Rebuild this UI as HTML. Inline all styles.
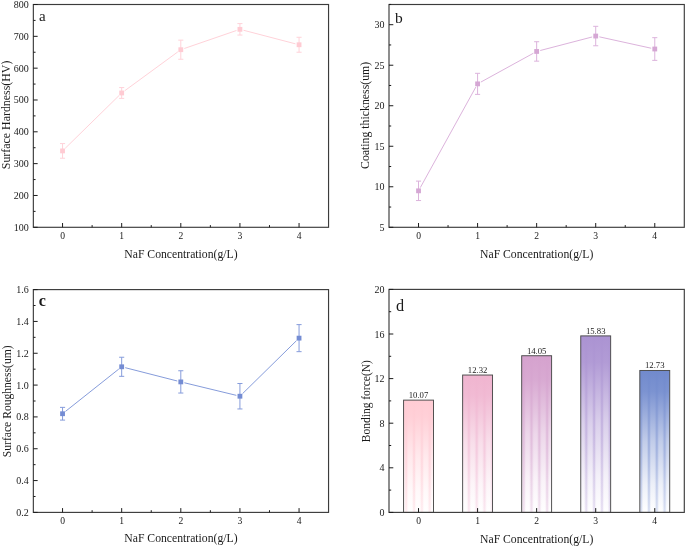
<!DOCTYPE html>
<html><head><meta charset="utf-8"><title>Figure</title>
<style>html,body{margin:0;padding:0;background:#fff;overflow:hidden}svg{display:block}text{font-family:"Liberation Serif", serif}</style>
</head><body>
<svg width="685" height="546" viewBox="0 0 685 546">
<rect width="685" height="546" fill="#fff"/>
<defs>
<linearGradient id="g0" x1="0" y1="0" x2="0" y2="1"><stop offset="0" stop-color="#FFCCD4"/><stop offset="0.15" stop-color="#FFCCD4" stop-opacity="0.92"/><stop offset="0.5" stop-color="#FFCCD4" stop-opacity="0.43"/><stop offset="0.8" stop-color="#FFCCD4" stop-opacity="0.13"/><stop offset="1" stop-color="#FFCCD4" stop-opacity="0"/></linearGradient>
<linearGradient id="s0" x1="0" y1="0" x2="1" y2="0"><stop offset="0.26" stop-color="#FFD9E0" stop-opacity="0"/><stop offset="0.5" stop-color="#FFD9E0"/><stop offset="0.74" stop-color="#FFD9E0" stop-opacity="0"/></linearGradient>
<pattern id="p0" patternUnits="userSpaceOnUse" x="2.955" y="0" width="7.83" height="600"><rect x="0" y="0" width="7.83" height="600" fill="url(#s0)"/></pattern>
<linearGradient id="g1" x1="0" y1="0" x2="0" y2="1"><stop offset="0" stop-color="#F0B5D0"/><stop offset="0.15" stop-color="#F0B5D0" stop-opacity="0.92"/><stop offset="0.5" stop-color="#F0B5D0" stop-opacity="0.43"/><stop offset="0.8" stop-color="#F0B5D0" stop-opacity="0.13"/><stop offset="1" stop-color="#F0B5D0" stop-opacity="0"/></linearGradient>
<linearGradient id="s1" x1="0" y1="0" x2="1" y2="0"><stop offset="0.26" stop-color="#F5CEE1" stop-opacity="0"/><stop offset="0.5" stop-color="#F5CEE1"/><stop offset="0.74" stop-color="#F5CEE1" stop-opacity="0"/></linearGradient>
<pattern id="p1" patternUnits="userSpaceOnUse" x="2.955" y="0" width="7.83" height="600"><rect x="0" y="0" width="7.83" height="600" fill="url(#s1)"/></pattern>
<linearGradient id="g2" x1="0" y1="0" x2="0" y2="1"><stop offset="0" stop-color="#D5A2CE"/><stop offset="0.15" stop-color="#D5A2CE" stop-opacity="0.92"/><stop offset="0.5" stop-color="#D5A2CE" stop-opacity="0.43"/><stop offset="0.8" stop-color="#D5A2CE" stop-opacity="0.13"/><stop offset="1" stop-color="#D5A2CE" stop-opacity="0"/></linearGradient>
<linearGradient id="s2" x1="0" y1="0" x2="1" y2="0"><stop offset="0.26" stop-color="#E3C2DF" stop-opacity="0"/><stop offset="0.5" stop-color="#E3C2DF"/><stop offset="0.74" stop-color="#E3C2DF" stop-opacity="0"/></linearGradient>
<pattern id="p2" patternUnits="userSpaceOnUse" x="2.955" y="0" width="7.83" height="600"><rect x="0" y="0" width="7.83" height="600" fill="url(#s2)"/></pattern>
<linearGradient id="g3" x1="0" y1="0" x2="0" y2="1"><stop offset="0" stop-color="#AB93D2"/><stop offset="0.15" stop-color="#AB93D2" stop-opacity="0.92"/><stop offset="0.5" stop-color="#AB93D2" stop-opacity="0.43"/><stop offset="0.8" stop-color="#AB93D2" stop-opacity="0.13"/><stop offset="1" stop-color="#AB93D2" stop-opacity="0"/></linearGradient>
<linearGradient id="s3" x1="0" y1="0" x2="1" y2="0"><stop offset="0.26" stop-color="#CDBFE5" stop-opacity="0"/><stop offset="0.5" stop-color="#CDBFE5"/><stop offset="0.74" stop-color="#CDBFE5" stop-opacity="0"/></linearGradient>
<pattern id="p3" patternUnits="userSpaceOnUse" x="2.955" y="0" width="7.83" height="600"><rect x="0" y="0" width="7.83" height="600" fill="url(#s3)"/></pattern>
<linearGradient id="g4" x1="0" y1="0" x2="0" y2="1"><stop offset="0" stop-color="#718ACD"/><stop offset="0.15" stop-color="#718ACD" stop-opacity="0.92"/><stop offset="0.5" stop-color="#718ACD" stop-opacity="0.43"/><stop offset="0.8" stop-color="#718ACD" stop-opacity="0.13"/><stop offset="1" stop-color="#718ACD" stop-opacity="0"/></linearGradient>
<linearGradient id="s4" x1="0" y1="0" x2="1" y2="0"><stop offset="0.26" stop-color="#AEBCE4" stop-opacity="0"/><stop offset="0.5" stop-color="#AEBCE4"/><stop offset="0.74" stop-color="#AEBCE4" stop-opacity="0"/></linearGradient>
<pattern id="p4" patternUnits="userSpaceOnUse" x="2.955" y="0" width="7.83" height="600"><rect x="0" y="0" width="7.83" height="600" fill="url(#s4)"/></pattern>
<linearGradient id="wf" x1="0" y1="0" x2="0" y2="1"><stop offset="0.55" stop-color="#fff" stop-opacity="0"/><stop offset="1" stop-color="#fff" stop-opacity="0.4"/></linearGradient>
</defs>
<path d="M65.2 148.32L119.03 95.57M124.66 90.8L177.82 51.88M184.3 48.49L236.43 30.53M243.51 30.26L295.47 43.83" fill="none" stroke="#FFD2D9" stroke-width="1"/>
<path d="M62.55 143.59V158.23M60 143.59H65.1M60 158.23H65.1" fill="none" stroke="#FFD2D9" stroke-width="1"/>
<rect x="60.15" y="148.51" width="4.8" height="4.8" fill="#FFCBD3"/>
<path d="M121.68 87.57V98.39M119.13 87.57H124.23M119.13 98.39H124.23" fill="none" stroke="#FFD2D9" stroke-width="1"/>
<rect x="119.28" y="90.58" width="4.8" height="4.8" fill="#FFCBD3"/>
<path d="M180.8 40.15V59.25M178.25 40.15H183.35M178.25 59.25H183.35" fill="none" stroke="#FFD2D9" stroke-width="1"/>
<rect x="178.4" y="47.3" width="4.8" height="4.8" fill="#FFCBD3"/>
<path d="M239.93 23.6V35.06M237.38 23.6H242.48M237.38 35.06H242.48" fill="none" stroke="#FFD2D9" stroke-width="1"/>
<rect x="237.53" y="26.93" width="4.8" height="4.8" fill="#FFCBD3"/>
<path d="M299.05 37.28V52.24M296.5 37.28H301.6M296.5 52.24H301.6" fill="none" stroke="#FFD2D9" stroke-width="1"/>
<rect x="296.65" y="42.36" width="4.8" height="4.8" fill="#FFCBD3"/>
<rect x="33.35" y="4.5" width="295.2" height="222.8" fill="none" stroke="#3c3c3c" stroke-width="1.15"/>
<line x1="62.55" y1="227.3" x2="62.55" y2="223.0" stroke="#1c1c1c" stroke-width="1"/>
<text x="62.55" y="239.2" font-size="9.6" text-anchor="middle" fill="#1a1a1a">0</text>
<line x1="121.68" y1="227.3" x2="121.68" y2="223.0" stroke="#1c1c1c" stroke-width="1"/>
<text x="121.68" y="239.2" font-size="9.6" text-anchor="middle" fill="#1a1a1a">1</text>
<line x1="180.8" y1="227.3" x2="180.8" y2="223.0" stroke="#1c1c1c" stroke-width="1"/>
<text x="180.8" y="239.2" font-size="9.6" text-anchor="middle" fill="#1a1a1a">2</text>
<line x1="239.93" y1="227.3" x2="239.93" y2="223.0" stroke="#1c1c1c" stroke-width="1"/>
<text x="239.93" y="239.2" font-size="9.6" text-anchor="middle" fill="#1a1a1a">3</text>
<line x1="299.05" y1="227.3" x2="299.05" y2="223.0" stroke="#1c1c1c" stroke-width="1"/>
<text x="299.05" y="239.2" font-size="9.6" text-anchor="middle" fill="#1a1a1a">4</text>
<line x1="92.12" y1="227.3" x2="92.12" y2="225.10000000000002" stroke="#1c1c1c" stroke-width="1"/>
<line x1="151.24" y1="227.3" x2="151.24" y2="225.10000000000002" stroke="#1c1c1c" stroke-width="1"/>
<line x1="210.37" y1="227.3" x2="210.37" y2="225.10000000000002" stroke="#1c1c1c" stroke-width="1"/>
<line x1="269.49" y1="227.3" x2="269.49" y2="225.10000000000002" stroke="#1c1c1c" stroke-width="1"/>
<line x1="33.35" y1="227.3" x2="37.65" y2="227.3" stroke="#1c1c1c" stroke-width="1"/>
<text x="28.75" y="230.8" font-size="10" text-anchor="end" fill="#1a1a1a">100</text>
<line x1="33.35" y1="195.47" x2="37.65" y2="195.47" stroke="#1c1c1c" stroke-width="1"/>
<text x="28.75" y="198.97" font-size="10" text-anchor="end" fill="#1a1a1a">200</text>
<line x1="33.35" y1="163.64" x2="37.65" y2="163.64" stroke="#1c1c1c" stroke-width="1"/>
<text x="28.75" y="167.14" font-size="10" text-anchor="end" fill="#1a1a1a">300</text>
<line x1="33.35" y1="131.81" x2="37.65" y2="131.81" stroke="#1c1c1c" stroke-width="1"/>
<text x="28.75" y="135.31" font-size="10" text-anchor="end" fill="#1a1a1a">400</text>
<line x1="33.35" y1="99.99" x2="37.65" y2="99.99" stroke="#1c1c1c" stroke-width="1"/>
<text x="28.75" y="103.49" font-size="10" text-anchor="end" fill="#1a1a1a">500</text>
<line x1="33.35" y1="68.16" x2="37.65" y2="68.16" stroke="#1c1c1c" stroke-width="1"/>
<text x="28.75" y="71.66" font-size="10" text-anchor="end" fill="#1a1a1a">600</text>
<line x1="33.35" y1="36.33" x2="37.65" y2="36.33" stroke="#1c1c1c" stroke-width="1"/>
<text x="28.75" y="39.83" font-size="10" text-anchor="end" fill="#1a1a1a">700</text>
<line x1="33.35" y1="4.5" x2="37.65" y2="4.5" stroke="#1c1c1c" stroke-width="1"/>
<text x="28.75" y="8" font-size="10" text-anchor="end" fill="#1a1a1a">800</text>
<line x1="33.35" y1="211.39" x2="35.550000000000004" y2="211.39" stroke="#1c1c1c" stroke-width="1"/>
<line x1="33.35" y1="179.56" x2="35.550000000000004" y2="179.56" stroke="#1c1c1c" stroke-width="1"/>
<line x1="33.35" y1="147.73" x2="35.550000000000004" y2="147.73" stroke="#1c1c1c" stroke-width="1"/>
<line x1="33.35" y1="115.9" x2="35.550000000000004" y2="115.9" stroke="#1c1c1c" stroke-width="1"/>
<line x1="33.35" y1="84.07" x2="35.550000000000004" y2="84.07" stroke="#1c1c1c" stroke-width="1"/>
<line x1="33.35" y1="52.24" x2="35.550000000000004" y2="52.24" stroke="#1c1c1c" stroke-width="1"/>
<line x1="33.35" y1="20.41" x2="35.550000000000004" y2="20.41" stroke="#1c1c1c" stroke-width="1"/>
<text x="180.95" y="257.7" font-size="11.7" text-anchor="middle" fill="#1a1a1a">NaF Concentration(g/L)</text>
<text transform="translate(9.8,114.9) rotate(-90)" font-size="11.9" text-anchor="middle" fill="#1a1a1a">Surface Hardness(HV)</text>
<text x="39" y="20.7" font-size="15" fill="#1a1a1a">a</text>
<path d="M420.32 187.59L475.8 87.1M480.83 82.08L533.41 53.22M540.23 50.51L592.13 36.98M599.32 36.84L651.16 48.22" fill="none" stroke="#DCB3DC" stroke-width="1"/>
<path d="M418.53 181.11V200.56M415.98 181.11H421.08M415.98 200.56H421.08" fill="none" stroke="#DCB3DC" stroke-width="1"/>
<rect x="416.13" y="188.43" width="4.8" height="4.8" fill="#D5A7D4"/>
<path d="M477.59 73.32V94.39M475.04 73.32H480.14M475.04 94.39H480.14" fill="none" stroke="#DCB3DC" stroke-width="1"/>
<rect x="475.19" y="81.46" width="4.8" height="4.8" fill="#D5A7D4"/>
<path d="M536.65 41.72V61.17M534.1 41.72H539.2M534.1 61.17H539.2" fill="none" stroke="#DCB3DC" stroke-width="1"/>
<rect x="534.25" y="49.04" width="4.8" height="4.8" fill="#D5A7D4"/>
<path d="M595.71 26.32V45.77M593.16 26.32H598.26M593.16 45.77H598.26" fill="none" stroke="#DCB3DC" stroke-width="1"/>
<rect x="593.31" y="33.65" width="4.8" height="4.8" fill="#D5A7D4"/>
<path d="M654.77 37.67V60.36M652.22 37.67H657.32M652.22 60.36H657.32" fill="none" stroke="#DCB3DC" stroke-width="1"/>
<rect x="652.37" y="46.61" width="4.8" height="4.8" fill="#D5A7D4"/>
<rect x="389.0" y="4.5" width="295.29999999999995" height="222.8" fill="none" stroke="#3c3c3c" stroke-width="1.15"/>
<line x1="418.53" y1="227.3" x2="418.53" y2="223.0" stroke="#1c1c1c" stroke-width="1"/>
<text x="418.53" y="239.2" font-size="9.6" text-anchor="middle" fill="#1a1a1a">0</text>
<line x1="477.59" y1="227.3" x2="477.59" y2="223.0" stroke="#1c1c1c" stroke-width="1"/>
<text x="477.59" y="239.2" font-size="9.6" text-anchor="middle" fill="#1a1a1a">1</text>
<line x1="536.65" y1="227.3" x2="536.65" y2="223.0" stroke="#1c1c1c" stroke-width="1"/>
<text x="536.65" y="239.2" font-size="9.6" text-anchor="middle" fill="#1a1a1a">2</text>
<line x1="595.71" y1="227.3" x2="595.71" y2="223.0" stroke="#1c1c1c" stroke-width="1"/>
<text x="595.71" y="239.2" font-size="9.6" text-anchor="middle" fill="#1a1a1a">3</text>
<line x1="654.77" y1="227.3" x2="654.77" y2="223.0" stroke="#1c1c1c" stroke-width="1"/>
<text x="654.77" y="239.2" font-size="9.6" text-anchor="middle" fill="#1a1a1a">4</text>
<line x1="448.06" y1="227.3" x2="448.06" y2="225.10000000000002" stroke="#1c1c1c" stroke-width="1"/>
<line x1="507.12" y1="227.3" x2="507.12" y2="225.10000000000002" stroke="#1c1c1c" stroke-width="1"/>
<line x1="566.18" y1="227.3" x2="566.18" y2="225.10000000000002" stroke="#1c1c1c" stroke-width="1"/>
<line x1="625.24" y1="227.3" x2="625.24" y2="225.10000000000002" stroke="#1c1c1c" stroke-width="1"/>
<line x1="389.0" y1="227.3" x2="393.3" y2="227.3" stroke="#1c1c1c" stroke-width="1"/>
<text x="384.4" y="230.8" font-size="10" text-anchor="end" fill="#1a1a1a">5</text>
<line x1="389.0" y1="186.78" x2="393.3" y2="186.78" stroke="#1c1c1c" stroke-width="1"/>
<text x="384.4" y="190.28" font-size="10" text-anchor="end" fill="#1a1a1a">10</text>
<line x1="389.0" y1="146.26" x2="393.3" y2="146.26" stroke="#1c1c1c" stroke-width="1"/>
<text x="384.4" y="149.76" font-size="10" text-anchor="end" fill="#1a1a1a">15</text>
<line x1="389.0" y1="105.74" x2="393.3" y2="105.74" stroke="#1c1c1c" stroke-width="1"/>
<text x="384.4" y="109.24" font-size="10" text-anchor="end" fill="#1a1a1a">20</text>
<line x1="389.0" y1="65.22" x2="393.3" y2="65.22" stroke="#1c1c1c" stroke-width="1"/>
<text x="384.4" y="68.72" font-size="10" text-anchor="end" fill="#1a1a1a">25</text>
<line x1="389.0" y1="24.7" x2="393.3" y2="24.7" stroke="#1c1c1c" stroke-width="1"/>
<text x="384.4" y="28.2" font-size="10" text-anchor="end" fill="#1a1a1a">30</text>
<line x1="389.0" y1="207.04" x2="391.2" y2="207.04" stroke="#1c1c1c" stroke-width="1"/>
<line x1="389.0" y1="166.52" x2="391.2" y2="166.52" stroke="#1c1c1c" stroke-width="1"/>
<line x1="389.0" y1="126" x2="391.2" y2="126" stroke="#1c1c1c" stroke-width="1"/>
<line x1="389.0" y1="85.48" x2="391.2" y2="85.48" stroke="#1c1c1c" stroke-width="1"/>
<line x1="389.0" y1="44.96" x2="391.2" y2="44.96" stroke="#1c1c1c" stroke-width="1"/>
<line x1="389.0" y1="4.44" x2="391.2" y2="4.44" stroke="#1c1c1c" stroke-width="1"/>
<text x="536.65" y="257.7" font-size="11.7" text-anchor="middle" fill="#1a1a1a">NaF Concentration(g/L)</text>
<text transform="translate(369,115.4) rotate(-90)" font-size="11.8" text-anchor="middle" fill="#1a1a1a">Coating thickness(um)</text>
<text x="395" y="23" font-size="15.5" fill="#1a1a1a">b</text>
<path d="M65.45 411.43L118.78 369.09M125.26 367.7L177.22 380.99M184.4 382.77L236.33 395.35M242.57 393.63L296.41 340.73" fill="none" stroke="#869CDB" stroke-width="1"/>
<path d="M62.55 407.37V420.1M60 407.37H65.1M60 420.1H65.1" fill="none" stroke="#869CDB" stroke-width="1"/>
<rect x="60.15" y="411.33" width="4.8" height="4.8" fill="#748CD3"/>
<path d="M121.68 357.24V376.33M119.13 357.24H124.23M119.13 376.33H124.23" fill="none" stroke="#869CDB" stroke-width="1"/>
<rect x="119.28" y="364.38" width="4.8" height="4.8" fill="#748CD3"/>
<path d="M180.8 370.76V393.04M178.25 370.76H183.35M178.25 393.04H183.35" fill="none" stroke="#869CDB" stroke-width="1"/>
<rect x="178.4" y="379.5" width="4.8" height="4.8" fill="#748CD3"/>
<path d="M239.93 383.49V408.96M237.38 383.49H242.48M237.38 408.96H242.48" fill="none" stroke="#869CDB" stroke-width="1"/>
<rect x="237.53" y="393.83" width="4.8" height="4.8" fill="#748CD3"/>
<path d="M299.05 324.61V351.67M296.5 324.61H301.6M296.5 351.67H301.6" fill="none" stroke="#869CDB" stroke-width="1"/>
<rect x="296.65" y="335.74" width="4.8" height="4.8" fill="#748CD3"/>
<rect x="33.35" y="289.6" width="295.2" height="222.79999999999995" fill="none" stroke="#3c3c3c" stroke-width="1.15"/>
<line x1="62.55" y1="512.4" x2="62.55" y2="508.09999999999997" stroke="#1c1c1c" stroke-width="1"/>
<text x="62.55" y="524.3" font-size="9.6" text-anchor="middle" fill="#1a1a1a">0</text>
<line x1="121.68" y1="512.4" x2="121.68" y2="508.09999999999997" stroke="#1c1c1c" stroke-width="1"/>
<text x="121.68" y="524.3" font-size="9.6" text-anchor="middle" fill="#1a1a1a">1</text>
<line x1="180.8" y1="512.4" x2="180.8" y2="508.09999999999997" stroke="#1c1c1c" stroke-width="1"/>
<text x="180.8" y="524.3" font-size="9.6" text-anchor="middle" fill="#1a1a1a">2</text>
<line x1="239.93" y1="512.4" x2="239.93" y2="508.09999999999997" stroke="#1c1c1c" stroke-width="1"/>
<text x="239.93" y="524.3" font-size="9.6" text-anchor="middle" fill="#1a1a1a">3</text>
<line x1="299.05" y1="512.4" x2="299.05" y2="508.09999999999997" stroke="#1c1c1c" stroke-width="1"/>
<text x="299.05" y="524.3" font-size="9.6" text-anchor="middle" fill="#1a1a1a">4</text>
<line x1="92.12" y1="512.4" x2="92.12" y2="510.2" stroke="#1c1c1c" stroke-width="1"/>
<line x1="151.24" y1="512.4" x2="151.24" y2="510.2" stroke="#1c1c1c" stroke-width="1"/>
<line x1="210.37" y1="512.4" x2="210.37" y2="510.2" stroke="#1c1c1c" stroke-width="1"/>
<line x1="269.49" y1="512.4" x2="269.49" y2="510.2" stroke="#1c1c1c" stroke-width="1"/>
<line x1="33.35" y1="512.4" x2="37.65" y2="512.4" stroke="#1c1c1c" stroke-width="1"/>
<text x="28.75" y="515.9" font-size="10" text-anchor="end" fill="#1a1a1a">0.2</text>
<line x1="33.35" y1="480.57" x2="37.65" y2="480.57" stroke="#1c1c1c" stroke-width="1"/>
<text x="28.75" y="484.07" font-size="10" text-anchor="end" fill="#1a1a1a">0.4</text>
<line x1="33.35" y1="448.74" x2="37.65" y2="448.74" stroke="#1c1c1c" stroke-width="1"/>
<text x="28.75" y="452.24" font-size="10" text-anchor="end" fill="#1a1a1a">0.6</text>
<line x1="33.35" y1="416.91" x2="37.65" y2="416.91" stroke="#1c1c1c" stroke-width="1"/>
<text x="28.75" y="420.41" font-size="10" text-anchor="end" fill="#1a1a1a">0.8</text>
<line x1="33.35" y1="385.09" x2="37.65" y2="385.09" stroke="#1c1c1c" stroke-width="1"/>
<text x="28.75" y="388.59" font-size="10" text-anchor="end" fill="#1a1a1a">1.0</text>
<line x1="33.35" y1="353.26" x2="37.65" y2="353.26" stroke="#1c1c1c" stroke-width="1"/>
<text x="28.75" y="356.76" font-size="10" text-anchor="end" fill="#1a1a1a">1.2</text>
<line x1="33.35" y1="321.43" x2="37.65" y2="321.43" stroke="#1c1c1c" stroke-width="1"/>
<text x="28.75" y="324.93" font-size="10" text-anchor="end" fill="#1a1a1a">1.4</text>
<line x1="33.35" y1="289.6" x2="37.65" y2="289.6" stroke="#1c1c1c" stroke-width="1"/>
<text x="28.75" y="293.1" font-size="10" text-anchor="end" fill="#1a1a1a">1.6</text>
<line x1="33.35" y1="496.49" x2="35.550000000000004" y2="496.49" stroke="#1c1c1c" stroke-width="1"/>
<line x1="33.35" y1="464.66" x2="35.550000000000004" y2="464.66" stroke="#1c1c1c" stroke-width="1"/>
<line x1="33.35" y1="432.83" x2="35.550000000000004" y2="432.83" stroke="#1c1c1c" stroke-width="1"/>
<line x1="33.35" y1="401" x2="35.550000000000004" y2="401" stroke="#1c1c1c" stroke-width="1"/>
<line x1="33.35" y1="369.17" x2="35.550000000000004" y2="369.17" stroke="#1c1c1c" stroke-width="1"/>
<line x1="33.35" y1="337.34" x2="35.550000000000004" y2="337.34" stroke="#1c1c1c" stroke-width="1"/>
<line x1="33.35" y1="305.51" x2="35.550000000000004" y2="305.51" stroke="#1c1c1c" stroke-width="1"/>
<text x="180.95" y="542.2" font-size="11.7" text-anchor="middle" fill="#1a1a1a">NaF Concentration(g/L)</text>
<text transform="translate(11.3,401.3) rotate(-90)" font-size="11.6" text-anchor="middle" fill="#1a1a1a">Surface Roughness(um)</text>
<text x="38.8" y="306" font-size="16" font-weight="bold" fill="#1a1a1a">c</text>
<rect x="403.58" y="400.12" width="29.9" height="112.28" fill="#fff"/>
<rect x="403.58" y="400.12" width="29.9" height="112.28" fill="url(#p0)"/>
<rect x="403.58" y="400.12" width="29.9" height="112.28" fill="url(#wf)"/>
<rect x="403.58" y="400.12" width="29.9" height="112.28" fill="url(#g0)" stroke="#4a4a4a" stroke-width="0.95"/>
<text x="418.53" y="398.02" font-size="8.7" text-anchor="middle" fill="#1a1a1a">10.07</text>
<rect x="462.64" y="375.03" width="29.9" height="137.37" fill="#fff"/>
<rect x="462.64" y="375.03" width="29.9" height="137.37" fill="url(#p1)"/>
<rect x="462.64" y="375.03" width="29.9" height="137.37" fill="url(#wf)"/>
<rect x="462.64" y="375.03" width="29.9" height="137.37" fill="url(#g1)" stroke="#4a4a4a" stroke-width="0.95"/>
<text x="477.59" y="372.93" font-size="8.7" text-anchor="middle" fill="#1a1a1a">12.32</text>
<rect x="521.7" y="355.74" width="29.9" height="156.66" fill="#fff"/>
<rect x="521.7" y="355.74" width="29.9" height="156.66" fill="url(#p2)"/>
<rect x="521.7" y="355.74" width="29.9" height="156.66" fill="url(#wf)"/>
<rect x="521.7" y="355.74" width="29.9" height="156.66" fill="url(#g2)" stroke="#4a4a4a" stroke-width="0.95"/>
<text x="536.65" y="353.64" font-size="8.7" text-anchor="middle" fill="#1a1a1a">14.05</text>
<rect x="580.76" y="335.9" width="29.9" height="176.5" fill="#fff"/>
<rect x="580.76" y="335.9" width="29.9" height="176.5" fill="url(#p3)"/>
<rect x="580.76" y="335.9" width="29.9" height="176.5" fill="url(#wf)"/>
<rect x="580.76" y="335.9" width="29.9" height="176.5" fill="url(#g3)" stroke="#4a4a4a" stroke-width="0.95"/>
<text x="595.71" y="333.8" font-size="8.7" text-anchor="middle" fill="#1a1a1a">15.83</text>
<rect x="639.82" y="370.46" width="29.9" height="141.94" fill="#fff"/>
<rect x="639.82" y="370.46" width="29.9" height="141.94" fill="url(#p4)"/>
<rect x="639.82" y="370.46" width="29.9" height="141.94" fill="url(#wf)"/>
<rect x="639.82" y="370.46" width="29.9" height="141.94" fill="url(#g4)" stroke="#4a4a4a" stroke-width="0.95"/>
<text x="654.77" y="368.36" font-size="8.7" text-anchor="middle" fill="#1a1a1a">12.73</text>
<rect x="389.0" y="289.4" width="295.29999999999995" height="223.0" fill="none" stroke="#3c3c3c" stroke-width="1.15"/>
<line x1="418.53" y1="512.4" x2="418.53" y2="508.09999999999997" stroke="#1c1c1c" stroke-width="1"/>
<text x="418.53" y="524.3" font-size="9.6" text-anchor="middle" fill="#1a1a1a">0</text>
<line x1="477.59" y1="512.4" x2="477.59" y2="508.09999999999997" stroke="#1c1c1c" stroke-width="1"/>
<text x="477.59" y="524.3" font-size="9.6" text-anchor="middle" fill="#1a1a1a">1</text>
<line x1="536.65" y1="512.4" x2="536.65" y2="508.09999999999997" stroke="#1c1c1c" stroke-width="1"/>
<text x="536.65" y="524.3" font-size="9.6" text-anchor="middle" fill="#1a1a1a">2</text>
<line x1="595.71" y1="512.4" x2="595.71" y2="508.09999999999997" stroke="#1c1c1c" stroke-width="1"/>
<text x="595.71" y="524.3" font-size="9.6" text-anchor="middle" fill="#1a1a1a">3</text>
<line x1="654.77" y1="512.4" x2="654.77" y2="508.09999999999997" stroke="#1c1c1c" stroke-width="1"/>
<text x="654.77" y="524.3" font-size="9.6" text-anchor="middle" fill="#1a1a1a">4</text>
<line x1="389.0" y1="512.4" x2="393.3" y2="512.4" stroke="#1c1c1c" stroke-width="1"/>
<text x="384.4" y="515.9" font-size="10" text-anchor="end" fill="#1a1a1a">0</text>
<line x1="389.0" y1="467.8" x2="393.3" y2="467.8" stroke="#1c1c1c" stroke-width="1"/>
<text x="384.4" y="471.3" font-size="10" text-anchor="end" fill="#1a1a1a">4</text>
<line x1="389.0" y1="423.2" x2="393.3" y2="423.2" stroke="#1c1c1c" stroke-width="1"/>
<text x="384.4" y="426.7" font-size="10" text-anchor="end" fill="#1a1a1a">8</text>
<line x1="389.0" y1="378.6" x2="393.3" y2="378.6" stroke="#1c1c1c" stroke-width="1"/>
<text x="384.4" y="382.1" font-size="10" text-anchor="end" fill="#1a1a1a">12</text>
<line x1="389.0" y1="334" x2="393.3" y2="334" stroke="#1c1c1c" stroke-width="1"/>
<text x="384.4" y="337.5" font-size="10" text-anchor="end" fill="#1a1a1a">16</text>
<line x1="389.0" y1="289.4" x2="393.3" y2="289.4" stroke="#1c1c1c" stroke-width="1"/>
<text x="384.4" y="292.9" font-size="10" text-anchor="end" fill="#1a1a1a">20</text>
<line x1="389.0" y1="490.1" x2="391.2" y2="490.1" stroke="#1c1c1c" stroke-width="1"/>
<line x1="389.0" y1="445.5" x2="391.2" y2="445.5" stroke="#1c1c1c" stroke-width="1"/>
<line x1="389.0" y1="400.9" x2="391.2" y2="400.9" stroke="#1c1c1c" stroke-width="1"/>
<line x1="389.0" y1="356.3" x2="391.2" y2="356.3" stroke="#1c1c1c" stroke-width="1"/>
<line x1="389.0" y1="311.7" x2="391.2" y2="311.7" stroke="#1c1c1c" stroke-width="1"/>
<text x="536.65" y="542.6" font-size="11.7" text-anchor="middle" fill="#1a1a1a">NaF Concentration(g/L)</text>
<text transform="translate(370,401.2) rotate(-90)" font-size="11.5" text-anchor="middle" fill="#1a1a1a">Bonding force(N)</text>
<text x="396" y="311.1" font-size="16.3" fill="#1a1a1a">d</text>
</svg></body></html>
